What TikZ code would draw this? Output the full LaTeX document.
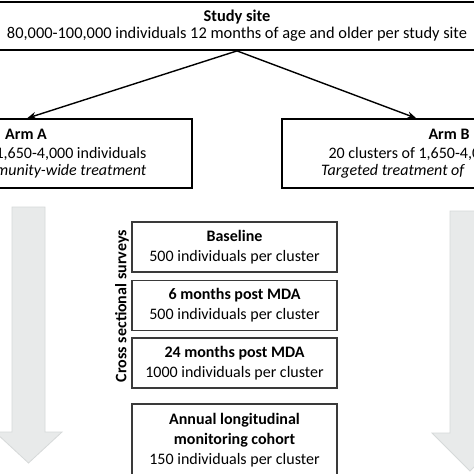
\documentclass[tikz,border=0pt]{standalone}
\usepackage{fontspec}
\setmainfont{Carlito}
\usetikzlibrary{arrows.meta,calc}
\definecolor{arrowfill}{HTML}{E8EAEA}
\definecolor{arrowedge}{HTML}{D6D9D9}
\definecolor{boxedge}{HTML}{3A3A3A}
\tikzset{
  bigarrow/.style={fill=arrowfill,draw=arrowedge,line width=0.8pt},
  armbox/.style={draw=black,line width=1.6pt,fill=white,inner sep=0pt},
  surveybox/.style={draw=boxedge,line width=1.1pt,fill=white,minimum width=205pt,minimum height=50pt,inner sep=0pt,align=center,font=\fontsize{16}{20}\selectfont},
  armtext/.style={align=center,font=\fontsize{16}{19}\selectfont,inner sep=0pt},
  conn/.style={-{Stealth[length=9pt,width=7pt]},line width=1.4pt}
}
\begin{document}
\begin{tikzpicture}[x=1pt,y=-1pt]
\useasboundingbox (0,0) rectangle (474,474);
\clip (0,0) rectangle (474,474);
\fill[white] (0,0) rectangle (474,474);
% big grey arrows
\path[bigarrow] (12,207) -- (45,207) -- (45,432) -- (62,432) -- (28.5,463) -- (-5,432) -- (12,432) -- cycle;
\path[bigarrow] (450,211) -- (490,211) -- (490,433) -- (508,433) -- (470,471) -- (432,433) -- (450,433) -- cycle;
% top box
\node[draw=black,line width=1.8pt,fill=white,minimum width=500pt,minimum height=48pt,inner sep=0pt] (top) at (237,26) {};
\node[align=center,font=\fontsize{16.4}{17}\selectfont,inner sep=0pt] (toptxt) at (237,25.5) {\textbf{Study site}\\80,000-100,000 individuals 12 months of age and older per study site};
% arm boxes
\node[armbox,minimum width=212pt,minimum height=69pt] (armA) at (86,153.5) {};
\node[armtext] (armAtxt) at (26,145) {\textbf{Arm A}\\20 clusters of 1,650-4,000 individuals};
\node[armtext,anchor=north east] (armAl3) at (146.5,164) {\textit{Community-wide treatment}};
\node[armbox,minimum width=220pt,minimum height=69pt] (armB) at (392,153.5) {};
\node[armtext] (armBtxt) at (449,145) {\textbf{Arm B}\\20 clusters of 1,650-4,000 individuals};
\node[armtext,anchor=north west] (armBl3) at (321,164) {\textit{Targeted treatment of}};
% connectors
\draw[conn] (top.south) -- ([xshift=48pt]armA.north west);
\draw[conn] (top.south) -- ([xshift=135pt]armB.north west);
% survey boxes
\node[surveybox] (base) at (234.5,247) {\textbf{Baseline}\\500 individuals per cluster};
\node[surveybox] (six) at (234.5,305.5) {\textbf{6 months post MDA}\\500 individuals per cluster};
\node[surveybox] (tfour) at (234.5,363) {\textbf{24 months post MDA}\\1000 individuals per cluster};
\node[surveybox,minimum height=80pt,text depth=11pt] (annual) at (234.5,444) {\textbf{Annual longitudinal}\\\textbf{monitoring cohort}\\150 individuals per cluster};
\node[rotate=90,font=\fontsize{16}{20}\selectfont\bfseries,inner sep=0pt] (cross) at (122,306) {Cross sectional surveys};
\end{tikzpicture}
\end{document}
